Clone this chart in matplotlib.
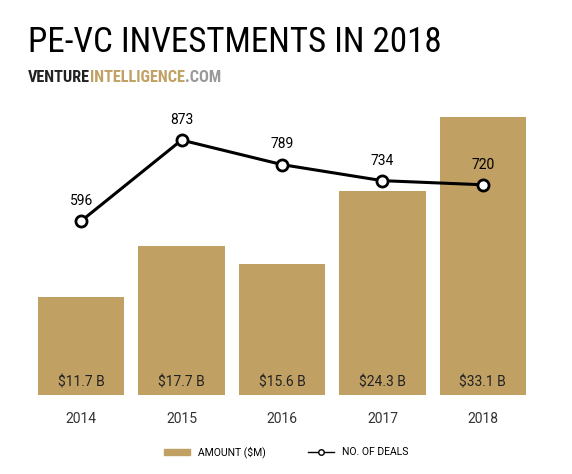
import matplotlib.pyplot as plt
from matplotlib import font_manager as fm
from matplotlib.lines import Line2D
from matplotlib.patches import Patch

years = ['2014', '2015', '2016', '2017', '2018']
amount_bn = [11.7, 17.7, 15.6, 24.3, 33.1]
deals = [596, 873, 789, 734, 720]

gold = '#c1a064'
names = {f.name for f in fm.fontManager.ttflist}
cond = next((n for n in ['Roboto Condensed', 'Liberation Sans Narrow', 'Roboto'] if n in names), 'DejaVu Sans')

fig = plt.figure(figsize=(5.72, 4.74), dpi=100)
W, H = 572, 474
ax = fig.add_axes([31 / W, 1 - 395 / H, 502 / W, 295 / H])
x = list(range(len(years)))
ax.bar(x, amount_bn, width=0.86, color=gold, zorder=1)
ax.set_ylim(0, 295 / 8.4)
ax.set_xlim(-0.5, 4.5)
for i, v in enumerate(amount_bn):
    ax.text(i, 0.6, f'${v} B', ha='center', va='bottom', fontsize=10, color='#222222', family='Roboto')
ax.set_xticks(x)
ax.set_xticklabels(years, fontsize=10, color='#333333', family='Roboto')
ax.tick_params(length=0, pad=12)
ax.set_yticks([])
for s in ax.spines.values():
    s.set_visible(False)

ax2 = ax.twinx()
ax2.set_ylim(0, 295 / 0.292)
ax2.plot(x, deals, color='black', lw=2.2, marker='o', ms=8, mfc='white', mec='black', mew=2, zorder=3)
for i, d in enumerate(deals):
    ax2.text(i, d + 45, str(d), ha='center', va='bottom', fontsize=10, family='Roboto')
ax2.set_yticks([])
for s in ax2.spines.values():
    s.set_visible(False)

fig.canvas.draw()
r = fig.canvas.get_renderer()
title = fig.text(28 / W, 1 - 42 / H, 'PE-VC INVESTMENTS IN 2018', fontsize=27, family=cond, va='center')
tw = title.get_window_extent(r).width
title.set_fontsize(27 * 415 / tw)

t = fig.text(28 / W, 1 - 78 / H, 'VENTURE', fontsize=12, family=cond, weight='bold', va='center', color='#222222')
bb = t.get_window_extent(r)
t2 = fig.text(bb.x1 / W, 1 - 78 / H, 'INTELLIGENCE', fontsize=12, family=cond, weight='bold', va='center', color=gold)
bb2 = t2.get_window_extent(r)
t3 = fig.text(bb2.x1 / W, 1 - 78 / H, '.COM', fontsize=12, family=cond, weight='bold', va='center', color='#999999')
total = t3.get_window_extent(r).x1 - bb.x0
s = 12 * 194 / total
t.set_fontsize(s)
bb = t.get_window_extent(r)
t2.set_fontsize(s)
t2.set_x(bb.x1 / W)
bb2 = t2.get_window_extent(r)
t3.set_fontsize(s)
t3.set_x(bb2.x1 / W)

handles = [Patch(color=gold, label='AMOUNT ($M)'),
           Line2D([], [], color='black', lw=1, marker='o', ms=4, mfc='white', label='NO. OF DEALS')]
fig.legend(handles=handles, loc='center', bbox_to_anchor=(0.5, 1 - 452 / H), ncol=2, frameon=False,
           prop={'family': 'Roboto', 'size': 7.5}, handlelength=2.5, columnspacing=4, handleheight=0.5)

fig.savefig('out.png', dpi=100)
